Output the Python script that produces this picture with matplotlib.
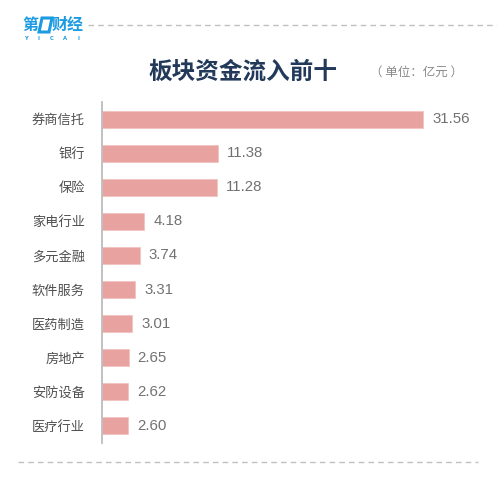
import matplotlib
matplotlib.use("Agg")
import matplotlib.pyplot as plt
from matplotlib.lines import Line2D
from matplotlib.patches import Polygon

plt.rcParams['font.family'] = ['Noto Sans CJK SC', 'DejaVu Sans']

# 数据
categories = ['券商信托', '银行', '保险', '家电行业', '多元金融',
              '软件服务', '医药制造', '房地产', '安防设备', '医疗行业']
values = [31.56, 11.38, 11.28, 4.18, 3.74, 3.31, 3.01, 2.65, 2.62, 2.60]
value_labels = ['31.56', '11.38', '11.28', '4.18', '3.74',
                '3.31', '3.01', '2.65', '2.62', '2.60']

W, H = 497, 490
fig = plt.figure(figsize=(W / 100, H / 100), dpi=100)
fig.patch.set_facecolor('white')

# 坐标轴区域（像素换算）
left, right, top, bottom = 101.5, 480, 102, 443
ax = fig.add_axes([left / W, 1 - bottom / H, (right - left) / W, (bottom - top) / H])
xmax = (right - left) / 10.2

pos = list(range(len(categories)))
ax.barh(pos, values, height=0.5, color='#e8a3a1', edgecolor='#f2c4c3', linewidth=0.6)
ax.set_ylim(len(categories) - 0.5, -0.5)
ax.set_xlim(0, xmax)

for p, v, lab in zip(pos, values, value_labels):
    ax.text(v + 0.9, p, lab, va='center', ha='left', fontsize=10.8,
            color='#727272', family='Liberation Sans')

ax.set_yticks(pos)
ax.set_yticklabels(categories, fontsize=9.5, color='#4f4f4f')
ax.tick_params(axis='y', length=0, pad=12)
ax.set_xticks([])
for s in ['top', 'right', 'bottom']:
    ax.spines[s].set_visible(False)
ax.spines['left'].set_color('#bdbdbd')
ax.spines['left'].set_linewidth(1.3)

# 标题
fig.text(243 / W, 1 - 72 / H, '板块资金流入前十', ha='center', va='center',
         fontsize=17, fontweight='bold', color='#22395a')
fig.text(417 / W, 1 - 72 / H, '（ 单位：亿元 ）', ha='center', va='center',
         fontsize=9, color='#8a8a8a')

# 标志
blue = '#1c9be2'
fig.text(22 / W, 1 - 25 / H, '第', ha='left', va='center', fontsize=11.5,
         fontweight='bold', color=blue)
fig.patches.append(Polygon([[39 / W, 1 - 32 / H], [42 / W, 1 - 18 / H],
                            [52 / W, 1 - 18 / H], [49 / W, 1 - 32 / H]],
                           closed=True, fill=False, edgecolor=blue, linewidth=2.2,
                           transform=fig.transFigure))
fig.text(52 / W, 1 - 25 / H, '财经', ha='left', va='center', fontsize=11.5,
         fontweight='bold', color=blue)
for i, ch in enumerate('YICAI'):
    fig.text((26 + i * 13) / W, 1 - 38 / H, ch, ha='center', va='center',
             fontsize=3.8, fontweight='bold', color=blue, family='DejaVu Sans')

# 虚线
fig.add_artist(Line2D([88 / W, 1.0], [1 - 25 / H, 1 - 25 / H], transform=fig.transFigure,
                      color='#c0c0c0', linewidth=1, linestyle=(0, (4, 3))))
fig.add_artist(Line2D([18 / W, 478 / W], [1 - 462 / H, 1 - 462 / H], transform=fig.transFigure,
                      color='#c0c0c0', linewidth=1, linestyle=(0, (4, 3))))

fig.savefig('out.png', dpi=100)
